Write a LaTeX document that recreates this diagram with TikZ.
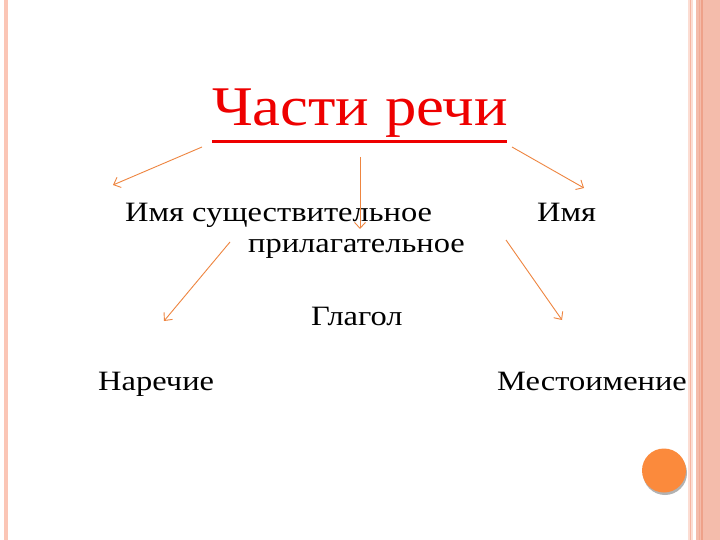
\documentclass[tikz,border=0pt]{standalone}
\usepackage{fontspec}
\setmainfont[FakeStretch=1.12]{Liberation Serif}
\newfontfamily\wordfont[FakeStretch=1.16]{Liberation Serif}
\usetikzlibrary{arrows.meta}
\definecolor{stripeL}{HTML}{FBC6B6}
\definecolor{stripeA}{HTML}{FCDDD3}
\definecolor{stripeB}{HTML}{F6B6A3}
\definecolor{band}{HTML}{F4BCAB}
\definecolor{bandline}{HTML}{EEA189}
\definecolor{arr}{HTML}{EE8540}
\definecolor{dot}{HTML}{FB8A3C}
\definecolor{titlered}{HTML}{EE0000}
\tikzset{
  word/.style={anchor=base west, inner sep=0pt, font=\wordfont\fontsize{28}{31}\selectfont},
  link/.style={draw=arr, line width=0.9pt, -{Straight Barb[length=6pt,width=11pt,line width=0.9pt]}}
}
\begin{document}
\begin{tikzpicture}[x=1pt,y=-1pt]
\useasboundingbox (0,0) rectangle (720,540);
\fill[white] (0,0) rectangle (720,540);
% stripes
\fill[stripeL] (4,0) rectangle (8,540);
\fill[stripeA] (687.5,0) rectangle (692.5,540);
\fill[stripeB] (689.5,0) rectangle (690.5,540);
\fill[band] (696,0) rectangle (720,540);
\fill[bandline] (701,0) rectangle (703,540);
\fill[bandline!60!band] (698.5,0) rectangle (699.5,540);
% dot
\fill[gray!60] (665,473) circle (22);
\fill[dot] (664,470.5) circle (22);
% title
\node[anchor=base, inner sep=0pt, text=titlered, font=\fontsize{56}{60}\selectfont] (title) at (360,126) {Части речи};
\draw[titlered, line width=3pt] (212,141.5) -- (507,141.5);
% words
\node[word] (noun) at (125,222) {Имя существительное};
\node[word] (adj1) at (537,222) {Имя};
\node[word] (adj2) at (248,252) {прилагательное};
\node[word] (verb) at (311,325) {Глагол};
\node[word] (adv) at (98,390) {Наречие};
\node[word] (pron) at (497,390) {Местоимение};
% arrow endpoints
\coordinate (s1) at (202,147); \coordinate (e1) at (113,185);
\coordinate (s2) at (360,157); \coordinate (e2) at (360,229);
\coordinate (s3) at (512,147); \coordinate (e3) at (584,188);
\coordinate (s4) at (230,242); \coordinate (e4) at (164,321);
\coordinate (s5) at (506,240); \coordinate (e5) at (562,320);
\draw[link] (s1) -- (e1);
\draw[link] (s2) -- (e2);
\draw[link] (s3) -- (e3);
\draw[link] (s4) -- (e4);
\draw[link] (s5) -- (e5);
\end{tikzpicture}
\end{document}
